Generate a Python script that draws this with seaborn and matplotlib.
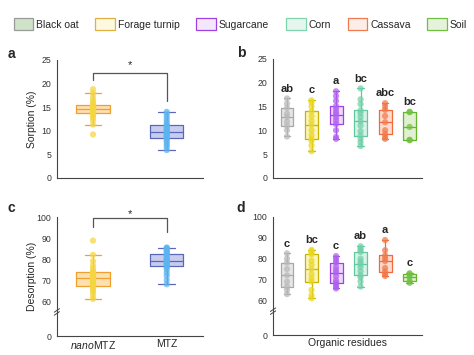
import numpy as np
import pandas as pd
import matplotlib
matplotlib.use('Agg')
import matplotlib.pyplot as plt
from matplotlib.patches import Patch
import seaborn as sns

# ---- data ----
forms = ['nanoMTZ', 'MTZ']
sorp_nano = [9.2, 11.3, 12.2, 12.8, 13.3, 13.55, 13.7, 14.0, 14.2, 14.4, 14.5, 14.6,
             14.7, 14.9, 15.0, 15.2, 15.3, 15.4, 15.6, 16.0, 16.5, 17.2, 18.0, 18.8]
sorp_mtz = [5.9, 6.5, 7.0, 7.5, 7.9, 8.3, 8.5, 8.8, 9.0, 9.3, 9.5, 9.6,
            9.8, 10.0, 10.3, 10.6, 10.9, 11.1, 11.3, 11.8, 12.3, 12.9, 13.5, 14.0]
desorp_nano = [61.0, 62.5, 64.0, 65.0, 66.0, 66.8, 67.2, 68.0, 68.8, 69.5, 70.2, 70.6,
               71.0, 71.5, 72.0, 72.6, 73.2, 73.7, 74.2, 75.5, 77.0, 79.0, 82.0, 88.8]
desorp_mtz = [68.0, 70.0, 72.0, 73.5, 75.0, 76.0, 76.7, 77.2, 77.8, 78.3, 78.7, 78.9,
              79.1, 79.5, 80.0, 80.6, 81.3, 82.3, 83.0, 83.6, 84.2, 84.8, 85.2, 85.5]

residues = ['Black oat', 'Forage turnip', 'Sugarcane', 'Corn', 'Cassava', 'Soil']
sorp_black_oat = [8.7, 10.0, 10.9, 11.8, 12.8, 13.5, 14.7, 15.6, 16.7]
sorp_turnip = [5.6, 6.8, 7.8, 8.2, 9.0, 10.0, 11.1, 12.0, 13.0, 14.0, 15.0, 15.8, 16.3]
sorp_sugarcane = [8.2, 8.6, 10.0, 11.3, 12.0, 12.7, 13.3, 13.8, 14.5, 15.1, 16.2, 17.2, 18.2]
sorp_corn = [6.7, 7.5, 8.2, 8.9, 9.8, 11.0, 11.9, 12.8, 13.6, 14.2, 15.5, 16.5, 18.8]
sorp_cassava = [8.2, 8.6, 9.2, 10.0, 11.7, 13.0, 14.3, 15.0, 15.7]
sorp_soil = [7.9, 8.0, 10.7, 13.8, 13.9]
letters_sorp = ['ab', 'c', 'a', 'bc', 'abc', 'bc']

desorp_black_oat = [63.0, 65.0, 66.6, 69.0, 72.0, 75.0, 78.0, 80.0, 82.5]
desorp_turnip = [61.0, 62.5, 65.0, 69.0, 70.5, 72.5, 74.9, 77.0, 79.0, 82.0, 83.0, 83.6, 84.2]
desorp_sugarcane = [65.7, 66.5, 67.5, 68.4, 69.5, 71.5, 73.3, 74.5, 76.0, 78.0, 79.0, 80.2, 81.2]
desorp_corn = [66.6, 69.0, 71.0, 72.0, 74.0, 76.0, 77.4, 78.5, 80.0, 83.2, 84.0, 85.0, 85.9]
desorp_cassava = [71.7, 72.5, 73.8, 75.5, 78.8, 80.0, 81.5, 84.0, 88.9]
desorp_soil = [68.4, 69.3, 71.2, 72.5, 73.0]
letters_desorp = ['c', 'bc', 'c', 'ab', 'a', 'c']

# ---- colours ----
form_edge = ['#f0a030', '#5a68b8']
form_fill = ['#fde0b0', '#c8cdf0']
form_dot = ['#f5d540', '#5ab4f0']

res_edge = ['#a8a8a8', '#c8b400', '#a040e8', '#60c8a0', '#f06a3a', '#60b828']
res_fill = ['#e6e6e6', '#fbf3c0', '#ecd8fb', '#d8f2e6', '#fcdcd0', '#e0f0d0']
res_dot = ['#b8b8b8', '#e8d820', '#b060f0', '#70d0a8', '#f07848', '#70c040']
leg_face = ['#cfe3c8', '#fdf8e0', '#f3e8fb', '#e6f6ef', '#fbeee8', '#e6f3dc']
leg_edge = ['#9a9a9a', '#e0b040', '#a040e0', '#7fd4b0', '#f07a50', '#70c040']

sns.set_style('white')
plt.rcParams['font.family'] = ['Liberation Sans', 'DejaVu Sans']
plt.rcParams['mathtext.fontset'] = 'custom'
plt.rcParams['mathtext.rm'] = 'Liberation Sans'
plt.rcParams['mathtext.it'] = 'Liberation Sans:italic'

GREY = '#444444'


def fwd(y):
    y = np.asarray(y, dtype=float)
    return np.where(y < 60, y * 16.67 / 60, y - 43.33)


def inv(z):
    z = np.asarray(z, dtype=float)
    return np.where(z < 16.67, z * 60 / 16.67, z + 43.33)


def draw_boxes(ax, groups, values, fills, edges, dots, width, whis):
    df = pd.DataFrame({'group': np.repeat(groups, [len(v) for v in values]),
                       'value': np.concatenate(values)})
    common = dict(data=df, x='group', y='value', hue='group', order=groups,
                  hue_order=groups, legend=False, width=width, whis=whis,
                  showfliers=False, saturation=1, ax=ax)
    sns.boxplot(**common, palette=fills, fill=True, linewidth=0, showcaps=False)
    sns.boxplot(**common, palette=edges, fill=False, linewidth=0.9)
    sns.stripplot(data=df, x='group', y='value', hue='group', order=groups,
                  hue_order=groups, palette=dots, jitter=False, size=4.5, alpha=0.72,
                  linewidth=0, legend=False, zorder=3, ax=ax)


def style(ax):
    for s in ['top', 'right']:
        ax.spines[s].set_visible(False)
    for s in ['left', 'bottom']:
        ax.spines[s].set_color(GREY)
        ax.spines[s].set_linewidth(0.8)
    ax.tick_params(axis='y', length=2.5, width=0.7, color=GREY, labelsize=6.3,
                   labelcolor='#333333', pad=1.5)
    ax.tick_params(axis='x', length=0, labelsize=7.5, pad=2)
    ax.set_xlabel('')
    ax.set_ylabel('')


def axis_break(ax):
    for dy in (0.0, 0.025):
        ax.plot([-0.018, 0.018], [0.175 + dy, 0.205 + dy], transform=ax.transAxes,
                color=GREY, lw=0.7, clip_on=False)


fig = plt.figure(figsize=(4.74, 3.55), dpi=100)
ax_a = fig.add_axes([0.120, 0.499, 0.308, 0.332])
ax_b = fig.add_axes([0.576, 0.499, 0.314, 0.335])
ax_c = fig.add_axes([0.120, 0.0535, 0.308, 0.335])
ax_d = fig.add_axes([0.576, 0.056, 0.314, 0.333])

for ax in (ax_c, ax_d):
    ax.set_yscale('function', functions=(fwd, inv))

# a
draw_boxes(ax_a, forms, [sorp_nano, sorp_mtz], form_fill, form_edge, form_dot, 0.45, 1.5)
ax_a.set_ylim(0, 25)
ax_a.set_yticks([0, 5, 10, 15, 20, 25])
ax_a.set_xlim(-0.49, 1.49)
ax_a.set_xticks([])
style(ax_a)
ax_a.set_ylabel('Sorption (%)', fontsize=7.5)
ax_a.yaxis.set_label_coords(-0.135, 0.5)
ax_a.plot([0, 0, 1, 1], [20.8, 22.2, 22.2, 16.3], color='#555555', lw=0.9)
ax_a.text(0.5, 24.0, '*', ha='center', va='center', fontsize=8)

# b
draw_boxes(ax_b, residues,
           [sorp_black_oat, sorp_turnip, sorp_sugarcane, sorp_corn, sorp_cassava, sorp_soil],
           res_fill, res_edge, res_dot, 0.53, (0, 100))
ax_b.set_ylim(0, 25)
ax_b.set_yticks([0, 5, 10, 15, 20, 25])
ax_b.set_xlim(-0.57, 5.5)
ax_b.set_xticks([])
style(ax_b)
for i, (vals, lab) in enumerate(zip([sorp_black_oat, sorp_turnip, sorp_sugarcane, sorp_corn,
                                     sorp_cassava, sorp_soil], letters_sorp)):
    ax_b.annotate(lab, (i, max(vals)), xytext=(0, 3.5), textcoords='offset points',
                  ha='center', va='bottom', fontsize=8, fontweight='bold')

# c
draw_boxes(ax_c, forms, [desorp_nano, desorp_mtz], form_fill, form_edge, form_dot, 0.45, 1.5)
ax_c.set_ylim(0, 100)
ax_c.set_yticks([0, 60, 70, 80, 90, 100])
ax_c.set_xlim(-0.49, 1.49)
ax_c.set_xticks([0, 1])
ax_c.set_xticklabels([r'$\it{nano}$MTZ', 'MTZ'])
style(ax_c)
ax_c.set_ylabel('Desorption (%)', fontsize=7.5)
ax_c.yaxis.set_label_coords(-0.135, 0.5)
ax_c.plot([0, 0, 1, 1], [95.2, 99.6, 99.6, 92.9], color='#555555', lw=0.9, clip_on=False)
ax_c.text(0.5, 101.5, '*', ha='center', va='center', fontsize=8)
axis_break(ax_c)

# d
draw_boxes(ax_d, residues,
           [desorp_black_oat, desorp_turnip, desorp_sugarcane, desorp_corn, desorp_cassava, desorp_soil],
           res_fill, res_edge, res_dot, 0.53, (0, 100))
ax_d.set_ylim(0, 100)
ax_d.set_yticks([0, 60, 70, 80, 90, 100])
ax_d.set_xlim(-0.57, 5.5)
ax_d.set_xticks([])
style(ax_d)
ax_d.set_xlabel('Organic residues', fontsize=7.5, labelpad=2)
for i, (vals, lab) in enumerate(zip([desorp_black_oat, desorp_turnip, desorp_sugarcane,
                                     desorp_corn, desorp_cassava, desorp_soil], letters_desorp)):
    ax_d.annotate(lab, (i, max(vals)), xytext=(0, 3.5), textcoords='offset points',
                  ha='center', va='bottom', fontsize=8, fontweight='bold')
axis_break(ax_d)

# panel letters
for lab, x, y in [('a', 11.5, 58), ('b', 241, 57), ('c', 11.5, 212), ('d', 241, 212)]:
    fig.text(x / 474, 1 - y / 355, lab, ha='center', va='baseline',
             fontsize=10, fontweight='bold')

handles = [Patch(facecolor=f, edgecolor=e, linewidth=0.9) for f, e in zip(leg_face, leg_edge)]
fig.legend(handles, residues, loc='center', bbox_to_anchor=(0.507, 0.932), ncol=6,
           frameon=False, fontsize=7.5, handlelength=1.9, handleheight=1.3,
           handletextpad=0.25, columnspacing=1.62, borderaxespad=0, borderpad=0)

fig.savefig('out.png', dpi=100)
